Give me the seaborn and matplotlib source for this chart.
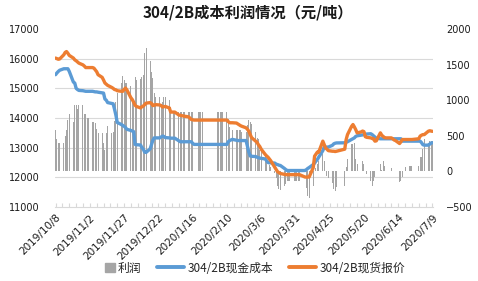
import pandas as pd
import seaborn as sns
import matplotlib
matplotlib.use("Agg")
import matplotlib.pyplot as plt
import matplotlib.patches as mpatches
from matplotlib.lines import Line2D
from matplotlib.legend_handler import HandlerPatch

START, END = "2019-10-08", "2020-07-09"
# exchange holidays (no bars on these weekdays)
HOLIDAYS = ["2020-01-01", "2020-01-24", "2020-01-27", "2020-01-28", "2020-01-29",
            "2020-01-30", "2020-01-31", "2020-04-06", "2020-05-01", "2020-05-04",
            "2020-05-05", "2020-06-25", "2020-06-26"]

# 304/2B spot price (yuan/t), one value per trading day
SPOT = (
    [16020, 16000, 15980, 15990, 16130, 16210, 16240, 16180, 16110, 16020, 15960, 15930,
     15890, 15850, 15790, 15750, 15700, 15700]                                    # Oct
    + [15700, 15700, 15680, 15620, 15560, 15460, 15370, 15280, 15180, 15140, 15100,
       15030, 15000, 14960, 14950, 14920, 14900, 14900, 14960, 15010, 14950]      # Nov
    + [14680, 14620, 14530, 14430, 14390, 14340, 14380, 14400, 14450, 14500, 14520,
       14490, 14420, 14430, 14450, 14440, 14420, 14370, 14380, 14390, 14340, 14200]  # Dec
    + [14200, 14200, 14100, 14090, 14080, 14070, 14060, 14040, 14000, 13950, 13940,
       13930, 13930, 13930, 13930, 13930]                                         # Jan
    + [13930, 13930, 13930, 13930, 13930, 13930, 13880, 13840, 13840, 13840, 13830,
       13800, 13770, 13740, 13720, 13670, 13620, 13555, 13450, 13340]             # Feb
    + [13220, 13180, 13100, 13040, 12950, 12770, 12720, 12680, 12620, 12560, 12330,
       12260, 12190, 12160, 12130, 12100, 12090, 12090, 12090, 12090, 12090, 12090]  # Mar
    + [12090, 12090, 12090, 12010, 12010, 12010, 12010, 12325, 12715, 12780, 12850,
       12850, 13220, 13100, 12990, 12950, 12900, 12880, 12880, 12870, 12880]      # Apr
    + [12950, 13270, 13440, 13720, 13780, 13700, 13610, 13500, 13530, 13560, 13540,
       13370, 13350, 13330, 13310, 13300, 13220, 13230]                           # May
    + [13500, 13420, 13380, 13340, 13330, 13330, 13330, 13300, 13260, 13240, 13140,
       13200, 13275, 13275, 13275, 13275, 13275, 13275, 13300, 13390]             # Jun
    + [13420, 13440, 13440, 13555, 13570, 13560, 13550]                           # Jul
)

# 304/2B cash cost (yuan/t)
COST = (
    [15460, 15520, 15570, 15610, 15660, 15660, 15660, 15660, 15570, 15210, 15180, 15000,
     14960, 14930, 14920, 14910, 14900, 14900]
    + [14900, 14900, 14890, 14880, 14880, 14870, 14850, 14840, 14640, 14600, 14520,
       14490, 14480, 14300, 14100, 13850, 13780, 13750, 13720, 13680, 13620]
    + [13580, 13560, 13540, 13110, 13100, 13090, 13000, 12950, 12850, 12840, 12960,
       13110, 13250, 13330, 13330, 13330, 13360, 13390, 13380, 13340, 13330, 13320]
    + [13320, 13320, 13230, 13200, 13200, 13200, 13200, 13200, 13200, 13200, 13150,
       13110, 13110, 13110, 13110, 13110]
    + [13110, 13110, 13110, 13110, 13110, 13110, 13200, 13240, 13260, 13280, 13250,
       13240, 13240, 13240, 13240, 13240, 13050, 12850, 12720, 12710]
    + [12700, 12680, 12660, 12650, 12640, 12620, 12560, 12500, 12490, 12490, 12480,
       12440, 12430, 12410, 12400, 12300, 12260, 12230, 12230, 12230, 12230, 12230]
    + [12230, 12230, 12230, 12230, 12260, 12300, 12330, 12430, 12480, 12550, 12600,
       12680, 12900, 13020, 13020, 13020, 13020, 13080, 13130, 13150, 13160]
    + [13165, 13180, 13200, 13280, 13310, 13330, 13380, 13400, 13420, 13430, 13440,
       13450, 13460, 13470, 13440, 13400, 13360, 13320]
    + [13300, 13300, 13300, 13300, 13300, 13300, 13300, 13300, 13300, 13300, 13300,
       13300, 13220, 13220, 13220, 13220, 13220, 13220, 13220, 13220]
    + [13170, 13100, 13085, 13085, 13120, 13160, 13165]
)

# profit (yuan/t), right axis
PROFIT = (
    [575, 450, 400, 400, 400, 500, 575, 720, 800, 700, 935, 935, 880, 935, 935, 810, 800, 750]
    + [750, 700, 700, 680, 600, 540, 540, 400, 300, 540, 635, 540, 560, 710, 980, 1100,
       1240, 1340, 1285, 1240, 1240]
    + [1200, 1000, 960, 1330, 1285, 1300, 1330, 1350, 1660, 1730, 1550, 1400, 1310, 1100,
       1050, 1050, 945, 980, 1050, 1050, 1000, 900]
    + [850, 850, 830, 840, 830, 840, 830, 830, 840, 830, 840, 820, 830, 830, 830, 830]
    + [830, 830, 830, 830, 830, 830, 740, 630, 585, 585, 585, 585, 585, 585, 560, 560,
       650, 724, 700, 660]
    + [560, 467, 450, 304, 330, 210, 140, 150, 90, 60, -23, -90, -200, -250, -257, -210,
       -170, -140, -140, -140, -140, -140]
    + [-140, -140, -140, -170, -233, -350, -373, -200, 0, 50, 100, 140, 250, 150, 0, -60,
       -93, -160, -250, -280, -220]
    + [-210, 56, 172, 383, 383, 406, 172, 100, 0, 150, 100, 0, -30, -130, -200, -130, -85, 0]
    + [100, 20, 150, 80, 0, 20, 45, 0, 0, 0, -155, -130, -85, 0, 56, 80, 80, 80, 80, 196]
    + [196, 312, 453, 406, 430, 430, 430]
)

TICK_DAYS = list(range(0, 276, 25))
LEFT_TICKS = list(range(11000, 17001, 1000))
RIGHT_TICKS = list(range(-500, 2001, 500))

BLUE, ORANGE, GRAY = "#5b9bd5", "#ed7d31", "#a5a5a5"
GRID = "#d9d9d9"
CJK = ["Noto Sans CJK SC", "DejaVu Sans"]

dates = pd.bdate_range(START, END)
dates = dates[~dates.isin(pd.to_datetime(HOLIDAYS))]
df = pd.DataFrame({"date": dates, "spot": SPOT, "cost": COST, "profit": PROFIT})
df["day"] = (df["date"] - pd.Timestamp(START)).dt.days

sns.set_theme(style="white")
plt.rcParams["font.family"] = ["DejaVu Sans"]

fig = plt.figure(figsize=(4.78, 2.81), dpi=100)
ax = fig.add_axes([0.1151, 0.2633, 0.7908, 0.6335])
ax2 = ax.twinx()
ax.set_zorder(ax2.get_zorder() + 1)
ax.patch.set_visible(False)

# profit bars (right axis), drawn underneath
sns.barplot(data=df, x="day", y="profit", native_scale=True, color=GRAY,
            saturation=1, width=0.7, errorbar=None, linewidth=0, ax=ax2)
ax2.set_ylim(-500, 2000)
ax2.set_yticks(RIGHT_TICKS)
# horizontal gridlines of the left scale, placed on the bar axis so they sit behind bars
grid_pos = [(v - 11000) / 6000 * 2500 - 500 for v in LEFT_TICKS]
ax2.set_yticks(grid_pos, minor=True)
ax2.set_axisbelow(True)
ax2.grid(False)
ax2.yaxis.grid(True, which="minor", color=GRID, lw=0.8)
ax2.tick_params(axis="y", which="both", length=0, pad=9.5, labelsize=7, colors="#1a1a1a")
ax2.set_ylabel("")

# price lines (left axis)
sns.lineplot(data=df, x="day", y="cost", color=BLUE, lw=2.4, ax=ax,
             solid_capstyle="round", solid_joinstyle="round")
sns.lineplot(data=df, x="day", y="spot", color=ORANGE, lw=2.4, ax=ax,
             solid_capstyle="round", solid_joinstyle="round")
ax.set_ylim(11000, 17000)
ax.set_yticks(LEFT_TICKS)
ax.set_ylabel("")
ax.set_xlabel("")
ax.tick_params(axis="y", length=0, pad=11, labelsize=7, colors="#1a1a1a")

ax.set_xlim(-0.4, 275.4)
tick_labels = [(pd.Timestamp(START) + pd.Timedelta(days=t)) for t in TICK_DAYS]
ax.set_xticks(TICK_DAYS)
ax.set_xticklabels([f"{t.year}/{t.month}/{t.day}" for t in tick_labels],
                   rotation=45, ha="right", rotation_mode="anchor")
ax.set_xticks(range(0, 276, 5), minor=True)
ax.tick_params(axis="x", which="both", direction="in", length=3, width=0.8,
               color=GRID, labelsize=7.5, labelcolor="#1a1a1a", pad=4, bottom=True)

for a in (ax, ax2):
    for s in a.spines.values():
        s.set_visible(False)
ax.spines["bottom"].set_visible(True)
ax.spines["bottom"].set_color(GRID)
ax.spines["bottom"].set_linewidth(0.8)

fig.text(0.518, 0.955, "304/2B成本利润情况（元/吨）", ha="center", va="center",
         fontsize=11, fontweight="bold", family=CJK, color="#1a1a1a")


def small_square(legend, orig_handle, xdescent, ydescent, width, height, fontsize):
    s = 7
    return mpatches.Rectangle((width - xdescent - s, -ydescent + (height - s) / 2), s, s)


handles = [mpatches.Patch(color=GRAY),
           Line2D([], [], color=BLUE, lw=2.8),
           Line2D([], [], color=ORANGE, lw=2.8)]
labels = ["利润", "304/2B现金成本", "304/2B现货报价"]
fig.legend(handles, labels, loc="center", bbox_to_anchor=(0.515, 0.046), ncol=3,
           frameon=False, handlelength=2.3, handletextpad=0.3, columnspacing=1.3,
           prop={"family": CJK, "size": 8.5},
           handler_map={mpatches.Patch: HandlerPatch(patch_func=small_square)})

fig.savefig("out.png", dpi=100)
